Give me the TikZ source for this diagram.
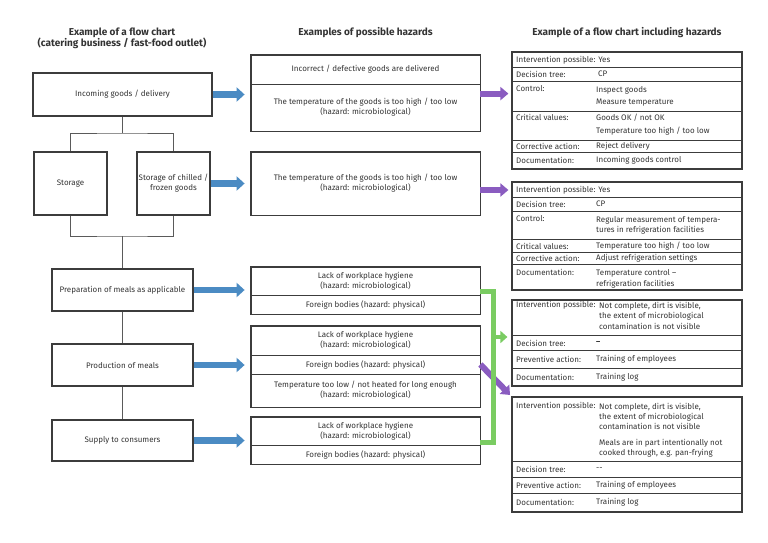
\documentclass[tikz,border=0pt]{standalone}
\usepackage{fontspec}
\setmainfont{Fira Sans}
\usepackage{tikz}
\usetikzlibrary{arrows.meta}
\definecolor{boxgray}{HTML}{3C3C3C}
\definecolor{textgray}{HTML}{333333}
\definecolor{linegray}{HTML}{5A5A5A}
\definecolor{arrowblue}{HTML}{4B8BC3}
\definecolor{arrowpurple}{HTML}{8A5CC0}
\definecolor{arrowgreen}{HTML}{7ACC62}

\begin{document}
\begin{tikzpicture}[x=1pt, y=-1pt, font=\fontsize{8}{9.8}\selectfont]
    \tikzstyle{flowbox} = [draw=boxgray, line width=1.4pt, text=textgray, align=center, inner sep=1pt]
    \tikzstyle{cell} = [draw=boxgray, line width=0.8pt, minimum width=229pt, text=textgray, align=center, inner sep=1pt]
    \tikzstyle{frame} = [draw=boxgray, line width=1.4pt]
    \tikzstyle{tab} = [draw=boxgray, line width=1.2pt, minimum width=230pt, inner sep=0pt]
    \tikzstyle{lbl} = [anchor=west, inner sep=0pt, text=textgray]
    \tikzstyle{val} = [anchor=north west, inner sep=0pt, align=left, text=textgray]
    \tikzstyle{title} = [font=\fontsize{10}{11.5}\selectfont\bfseries, text=textgray, align=center]
    \tikzstyle{link} = [draw=linegray, line width=0.9pt]
    \tikzstyle{bluearrow} = [draw=arrowblue, line width=6.5pt, -{Triangle[width=14pt,length=8pt]}, shorten >=6pt]
    \tikzstyle{purplearrow} = [draw=arrowpurple, line width=6pt, -{Triangle[width=13pt,length=8pt]}, shorten >=3pt]
    \tikzstyle{greenline} = [draw=arrowgreen, line width=4.5pt]
    \tikzstyle{greenarrow} = [draw=arrowgreen, line width=4.5pt, -{Triangle[width=12pt,length=7pt]}, shorten >=4pt]

    \useasboundingbox (0,0) rectangle (768,543);

    % Titles
    \node[title] (titleFlow) at (122,38.5) {Example of a flow chart\\(catering business / fast-food outlet)};
    \node[title] (titleHaz) at (365.5,33) {Examples of possible hazards};
    \node[title] (titleTab) at (627,33) {Example of a flow chart including hazards};

    % Flow chart
    \node[flowbox, minimum width=179pt, minimum height=43pt] (incoming) at (122.5,94.5) {Incoming goods / delivery};
    \node[flowbox, minimum width=73pt, minimum height=63pt] (storage) at (70.5,183.5) {Storage};
    \node[flowbox, minimum width=73pt, minimum height=63pt] (chilled) at (173.5,183.5) {Storage of chilled /\\frozen goods};
    \node[flowbox, minimum width=141pt, minimum height=42pt] (prep) at (122.5,290) {Preparation of meals as applicable};
    \node[flowbox, minimum width=141pt, minimum height=42pt] (prod) at (122.5,365) {Production of meals};
    \node[flowbox, minimum width=141pt, minimum height=41pt] (supply) at (122.5,440.5) {Supply to consumers};

    \coordinate (split) at (122.5,133);
    \coordinate (merge) at (122.5,236);
    \draw[link] (incoming.south) -- (split);
    \draw[link] (storage.north) |- (split) -| (chilled.north);
    \draw[link] (storage.south) |- (merge) -| (chilled.south);
    \draw[link] (merge) -- (prep.north);
    \draw[link] (prep.south) -- (prod.north);
    \draw[link] (prod.south) -- (supply.north);

    % Hazards
    \node[cell, minimum height=29pt] (goodsA) at (365.5,69.5) {Incorrect / defective goods are delivered};
    \node[cell, minimum height=47pt] (goodsB) at (365.5,107.5) {The temperature of the goods is too high / too low\\(hazard: microbiological)};
    \node[cell, minimum height=63pt] (chillHaz) at (365.5,183.5) {The temperature of the goods is too high / too low\\(hazard: microbiological)};
    \node[cell, minimum height=28pt] (prepA) at (365.5,281) {Lack of workplace hygiene\\(hazard: microbiological)};
    \node[cell, minimum height=19pt] (prepB) at (365.5,304.5) {Foreign bodies (hazard: physical)};
    \node[cell, minimum height=29pt] (prodA) at (365.5,340.5) {Lack of workplace hygiene\\(hazard: microbiological)};
    \node[cell, minimum height=19pt] (prodB) at (365.5,364.5) {Foreign bodies (hazard: physical)};
    \node[cell, minimum height=33pt] (prodC) at (365.5,390.5) {Temperature too low / not heated for long enough\\(hazard: microbiological)};
    \node[cell, minimum height=28pt] (supA) at (365.5,431) {Lack of workplace hygiene\\(hazard: microbiological)};
    \node[cell, minimum height=19pt] (supB) at (365.5,454.5) {Foreign bodies (hazard: physical)};

    \draw[frame] (goodsA.north west) rectangle (goodsB.south east);
    \draw[frame] (chillHaz.north west) rectangle (chillHaz.south east);
    \draw[frame] (prepA.north west) rectangle (prepB.south east);
    \draw[frame] (prodA.north west) rectangle (prodC.south east);
    \draw[frame] (supA.north west) rectangle (supB.south east);

    % Blue arrows flow chart -> hazards
    \foreach \from/\to in {incoming/goodsB, chilled/chillHaz, prep/prepA, prod/prodB, supply/supA} {
        \draw[bluearrow] (\from.east) -- (\from.east -| \to.west);
    }

    % Tables
    \node[tab, minimum height=117pt] (tabGoods) at (627,110.5) {};
    \foreach \y in {67,81,111,140,152} {
        \draw[boxgray, line width=0.7pt] (tabGoods.west |- 0,\y) -- (tabGoods.east |- 0,\y);
    }
    \node[lbl] (g1) at (516,60) {Intervention possible: Yes};
    \node[lbl] (g2) at (516,74) {Decision tree:};
    \node[lbl] (g2v) at (598,74) {CP};
    \node[lbl] (g3) at (516,89) {Control:};
    \node[val, font=\fontsize{8}{12}\selectfont] (g3v) at (596,86) {Inspect goods\\Measure temperature};
    \node[lbl] (g4) at (516,117) {Critical values:};
    \node[val, font=\fontsize{8}{13}\selectfont] (g4v) at (596,114) {Goods OK / not OK\\Temperature too high / too low};
    \node[lbl] (g5) at (516,146) {Corrective action:};
    \node[lbl] (g5v) at (596,146) {Reject delivery};
    \node[lbl] (g6) at (516,160) {Documentation:};
    \node[lbl] (g6v) at (596,160) {Incoming goods control};

    \node[tab, minimum height=108pt] (tabChill) at (627,236) {};
    \foreach \y in {197,211,239,252,264} {
        \draw[boxgray, line width=0.7pt] (tabChill.west |- 0,\y) -- (tabChill.east |- 0,\y);
    }
    \node[lbl] (c1) at (516,190) {Intervention possible: Yes};
    \node[lbl] (c2) at (516,204) {Decision tree:};
    \node[lbl] (c2v) at (596,204) {CP};
    \node[lbl] (c3) at (516,219) {Control:};
    \node[val, font=\fontsize{8}{10}\selectfont] (c3v) at (596,216) {Regular measurement of tempera-\\tures in refrigeration facilities};
    \node[lbl] (c4) at (516,246) {Critical values:};
    \node[lbl] (c4v) at (596,246) {Temperature too high / too low};
    \node[lbl] (c5) at (516,258) {Corrective action:};
    \node[lbl] (c5v) at (596,258) {Adjust refrigeration settings};
    \node[lbl] (c6) at (516,272) {Documentation:};
    \node[val, font=\fontsize{8}{11}\selectfont] (c6v) at (596,269) {Temperature control --\\refrigeration facilities};

    \node[tab, minimum height=86pt] (tabHyg) at (627,343) {};
    \foreach \y in {335,350,368} {
        \draw[boxgray, line width=0.7pt] (tabHyg.west |- 0,\y) -- (tabHyg.east |- 0,\y);
    }
    \node[lbl] (h1) at (516,305) {Intervention possible:};
    \node[val, font=\fontsize{8}{10.5}\selectfont] (h1v) at (599,302) {Not complete, dirt is visible,\\the extent of microbiological\\contamination is not visible};
    \node[lbl] (h2) at (516,343) {Decision tree:};
    \node[lbl] (h2v) at (596,343) {\textbf{--}};
    \node[lbl] (h3) at (516,359) {Preventive action:};
    \node[lbl] (h3v) at (596,359) {Training of employees};
    \node[lbl] (h4) at (516,377) {Documentation:};
    \node[lbl] (h4v) at (596,377) {Training log};

    \node[tab, minimum height=115pt] (tabProd) at (627,454.5) {};
    \foreach \y in {461,477,493} {
        \draw[boxgray, line width=0.7pt] (tabProd.west |- 0,\y) -- (tabProd.east |- 0,\y);
    }
    \node[lbl] (p1) at (516,406) {Intervention possible:};
    \node[val, font=\fontsize{8}{10}\selectfont] (p1v) at (599,403) {Not complete, dirt is visible,\\the extent of microbiological\\contamination is not visible};
    \node[val, font=\fontsize{8}{10}\selectfont] (p1w) at (599,439) {Meals are in part intentionally not\\cooked through, e.g. pan-frying};
    \node[lbl] (p2) at (516,469) {Decision tree:};
    \node[lbl] (p2v) at (596,469) {-{}-};
    \node[lbl] (p3) at (516,485) {Preventive action:};
    \node[lbl] (p3v) at (596,485) {Training of employees};
    \node[lbl] (p4) at (516,502) {Documentation:};
    \node[lbl] (p4v) at (596,502) {Training log};

    % Purple arrows hazards -> tables
    \coordinate (pGoods) at ([yshift=-10pt]goodsB.north east);
    \coordinate (pChill) at ([yshift=-6.5pt]chillHaz.east);
    \draw[purplearrow] (pGoods) -- (pGoods -| tabGoods.west);
    \draw[purplearrow] (pChill) -- (pChill -| tabChill.west);
    \draw[purplearrow, shorten >=2pt] (prodB.east) -- (tabProd.north west);

    % Green bracket hygiene -> table
    \draw[greenline] ([yshift=4pt]prepA.south east) -- ++(13,0) |- ([yshift=3pt]supA.south east);
    \coordinate (gBranch) at (493,337);
    \draw[greenarrow] (gBranch) -- (gBranch -| tabHyg.west);
\end{tikzpicture}
\end{document}
